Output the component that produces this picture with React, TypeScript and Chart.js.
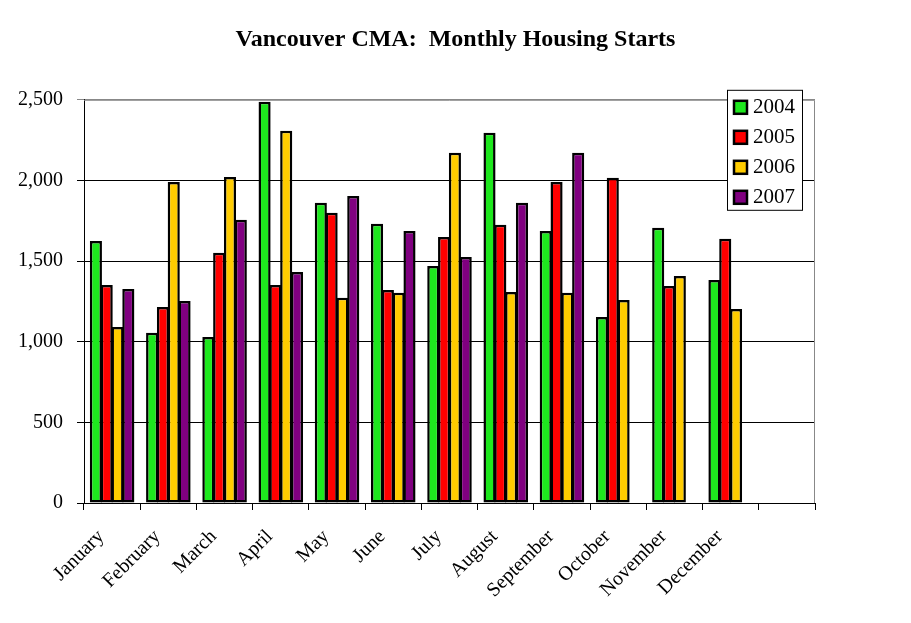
import { useEffect, useRef } from "react";
import { Chart, registerables } from "chart.js";

Chart.register(...registerables);

// categories (last slot is empty, as in the original sheet)
const months = [
  "January", "February", "March", "April", "May", "June",
  "July", "August", "September", "October", "November", "December", "",
];

// monthly housing starts by year
const starts2004 = [1625, 1055, 1030, 2488, 1861, 1731, 1470, 2295, 1687, 1154, 1706, 1383, null];
const starts2005 = [1352, 1216, 1551, 1352, 1799, 1321, 1650, 1725, 1991, 2016, 1346, 1638, null];
const starts2006 = [1092, 1991, 2022, 2308, 1272, 1303, 2171, 1309, 1303, 1259, 1408, 1203, null];
const starts2007 = [1327, 1253, 1756, 1433, 1904, 1687, 1526, 1861, 2171, null, null, null, null];

const years = ["2004", "2005", "2006", "2007"];
const colors = ["#1ee81e", "#ff0000", "#ffcc00", "#800080"];

const serif = "'Liberation Serif', 'Times New Roman', serif";

// legend box in the upper right, Excel style
const boxLegend = {
  id: "boxLegend",
  afterDraw(chart: any) {
    const { ctx, chartArea } = chart;
    const x = chartArea.right - 88;
    const y = chartArea.top - 10;
    ctx.save();
    ctx.fillStyle = "#fff";
    ctx.fillRect(x, y, 75, 120);
    ctx.strokeStyle = "#000";
    ctx.lineWidth = 1;
    ctx.strokeRect(x + 0.5, y + 0.5, 75, 120);
    ctx.font = `21px ${serif}`;
    ctx.textBaseline = "middle";
    chart.data.datasets.forEach((ds: any, i: number) => {
      const cy = y + 17 + i * 30;
      ctx.fillStyle = ds.backgroundColor;
      ctx.fillRect(x + 7, cy - 6, 13, 13);
      ctx.lineWidth = 2.5;
      ctx.strokeStyle = "#000";
      ctx.strokeRect(x + 7, cy - 6, 13, 13);
      ctx.fillStyle = "#000";
      ctx.fillText(ds.label, x + 26, cy + 1);
    });
    ctx.restore();
  },
};

// grey top/right edges of the plot area
const plotEdge = {
  id: "plotEdge",
  afterDatasetsDraw(chart: any) {
    const { ctx, chartArea } = chart;
    ctx.save();
    ctx.strokeStyle = "#888";
    ctx.lineWidth = 1;
    ctx.beginPath();
    ctx.moveTo(chartArea.left, chartArea.top + 0.5);
    ctx.lineTo(chartArea.right - 0.5, chartArea.top + 0.5);
    ctx.lineTo(chartArea.right - 0.5, chartArea.bottom);
    ctx.stroke();
    ctx.restore();
  },
};

export default function App() {
  const canvasRef = useRef<HTMLCanvasElement | null>(null);

  useEffect(() => {
    const canvas = canvasRef.current;
    if (!canvas) return;
    const series = [starts2004, starts2005, starts2006, starts2007];
    const chart = new Chart(canvas, {
      type: "bar",
      data: {
        labels: months,
        datasets: years.map((y, i) => ({
          label: y,
          data: series[i],
          backgroundColor: colors[i],
          borderColor: "#000",
          borderWidth: 2.5,
          borderSkipped: false,
          categoryPercentage: 1 / 1.3,
          // slightly wider than the slot so neighbouring outlines overlap, like Excel
          barPercentage: 1.12,
        })),
      },
      options: {
        responsive: true,
        maintainAspectRatio: false,
        animation: false,
        layout: { padding: 0 },
        plugins: {
          legend: { display: false },
          tooltip: { enabled: false },
          title: {
            display: true,
            text: "Vancouver CMA:  Monthly Housing Starts",
            color: "#000",
            font: { family: serif, size: 24, weight: "bold" },
            padding: { top: 25, bottom: 46 },
          },
        },
        scales: {
          x: {
            grid: {
              display: true,
              drawOnChartArea: false,
              drawTicks: true,
              tickLength: 7,
              color: "#000",
              offset: true,
            },
            border: { color: "#000", width: 1 },
            ticks: {
              color: "#000",
              font: { family: serif, size: 20 },
              maxRotation: 45,
              minRotation: 45,
              autoSkip: false,
              padding: 15,
              labelOffset: -11,
            },
            afterFit: (s: any) => {
              s.height = 120;
            },
          },
          y: {
            min: 0,
            max: 2500,
            ticks: {
              stepSize: 500,
              color: "#000",
              font: { family: serif, size: 20 },
              padding: 14,
              callback: (v: any) => Number(v).toLocaleString("en-US"),
            },
            grid: {
              color: (c: any) => (c.tick && c.tick.value === 2500 ? "#888" : "#000"),
              tickLength: 7,
              lineWidth: 1,
            },
            border: { color: "#000", width: 1 },
            afterFit: (s: any) => {
              s.width = 84;
            },
          },
          // empty spacer on the right so the title stays centred on the page
          gap: {
            type: "linear",
            position: "right",
            display: true,
            grid: { display: false },
            border: { display: false },
            ticks: { display: false },
            afterFit: (s: any) => {
              s.width = 96;
            },
          },
        },
      },
      plugins: [plotEdge, boxLegend],
    });
    return () => chart.destroy();
  }, []);

  return (
    <div style={{ position: "absolute", left: 0, top: 0, width: 911, height: 623, background: "#fff" }}>
      <canvas ref={canvasRef} />
    </div>
  );
}
